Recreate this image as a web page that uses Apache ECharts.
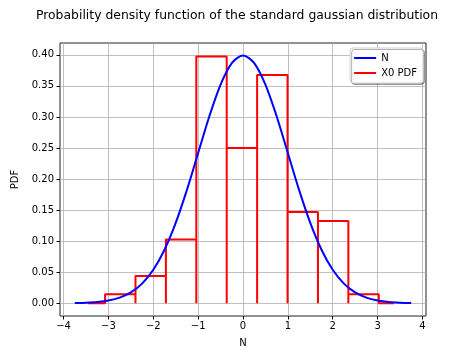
<!DOCTYPE html>
<html>
<head>
<meta charset="utf-8">
<script src="https://cdn.jsdelivr.net/npm/echarts@6/dist/echarts.min.js"></script>
<style>html,body{margin:0;padding:0;background:#fff}#c{width:474px;height:355px}</style>
</head>
<body>
<div id="c"></div>
<script>
// Gaussian curve samples
const curveX = [-3.75,-3.5,-3.25,-3,-2.75,-2.5,-2.25,-2,-1.75,-1.5,-1.25,-1,-0.75,-0.5,-0.25,0,0.25,0.5,0.75,1,1.25,1.5,1.75,2,2.25,2.5,2.75,3,3.25,3.5,3.75];
const curveY = [0.0004,0.0009,0.002,0.0044,0.0091,0.0175,0.0317,0.054,0.0863,0.1295,0.1826,0.242,0.3011,0.3521,0.3867,0.3989,0.3867,0.3521,0.3011,0.242,0.1826,0.1295,0.0863,0.054,0.0317,0.0175,0.0091,0.0044,0.002,0.0009,0.0004];
// Histogram (X0 PDF)
const binEdges = [-3.075,-2.397,-1.719,-1.041,-0.363,0.315,0.993,1.671,2.349,3.027];
const binHeights = [0.0147,0.0441,0.1029,0.3971,0.25,0.3676,0.1471,0.1324,0.0147];
const histStart = -3.45;
const histEnd = 3.36;
// Tick labels
const xTicks = [-4,-3,-2,-1,0,1,2,3,4];
const yTicks = [0,0.05,0.1,0.15,0.2,0.25,0.3,0.35,0.4];

const curveData = curveX.map((x,i)=>[x,curveY[i]]);
const histData = [[histStart,0],[binEdges[0],0]];
for (let i=0;i<binHeights.length;i++){
  histData.push([binEdges[i],binHeights[i]]);
  histData.push([binEdges[i+1],binHeights[i]]);
  histData.push([binEdges[i+1],0]);
}
histData.push([histEnd,0]);

const font = 'DejaVu Sans';
const chart = echarts.init(document.getElementById('c'), null, {renderer:'canvas'});
chart.setOption({
  animation:false,
  backgroundColor:'#fff',
  title:{
    text:'Probability density function of the standard gaussian distribution',
    left:232, top:5, textAlign:'center',
    textStyle:{fontFamily:font,fontSize:12.4,fontWeight:'normal',color:'#000'}
  },
  grid:{left:60,right:48,top:43,bottom:39,show:true,borderColor:'#222',borderWidth:1,backgroundColor:'#fff'},
  legend:{
    orient:'vertical', right:51, top:48,
    data:['N','X0 PDF'],
    icon:'rect', itemWidth:22, itemHeight:2, itemGap:5,
    padding:[5,6,5,4],
    backgroundColor:'#fff', borderColor:'#d0d0d0', borderWidth:1, borderRadius:3,
    shadowColor:'rgba(0,0,0,0.3)', shadowBlur:0, shadowOffsetX:1.5, shadowOffsetY:1.5,
    textStyle:{fontFamily:font,fontSize:10,color:'#000'}
  },
  xAxis:{
    type:'value', min:-4.08, max:4.08,
    name:'N', nameLocation:'middle', nameGap:22,
    nameTextStyle:{fontFamily:font,fontSize:10,color:'#000'},
    axisLine:{show:false,onZero:false},
    axisTick:{show:true,inside:false,length:3.5,lineStyle:{color:'#000'},customValues:xTicks},
    axisLabel:{fontFamily:font,fontSize:10,color:'#000',margin:5,customValues:xTicks,
      formatter:v=>String(v).replace('-','\u2212')},
    splitLine:{show:true,lineStyle:{color:'#b0b0b0',width:0.8},customValues:xTicks}
  },
  yAxis:{
    type:'value', min:-0.0204, max:0.419,
    name:'PDF', nameLocation:'middle', nameGap:32, nameRotate:90,
    nameTextStyle:{fontFamily:font,fontSize:10,color:'#000'},
    axisLine:{show:false,onZero:false},
    axisTick:{show:true,inside:false,length:3.5,lineStyle:{color:'#000'},customValues:yTicks},
    axisLabel:{fontFamily:font,fontSize:10,color:'#000',margin:6,customValues:yTicks,
      formatter:v=>v.toFixed(2)},
    splitLine:{show:true,lineStyle:{color:'#b0b0b0',width:0.8},customValues:yTicks}
  },
  series:[
    {name:'N',type:'line',data:curveData,showSymbol:false,smooth:0.3,
      lineStyle:{color:'#0000ff',width:2},itemStyle:{color:'#0000ff'},z:3},
    {name:'X0 PDF',type:'line',data:histData,showSymbol:false,
      lineStyle:{color:'#ff0000',width:2},itemStyle:{color:'#ff0000'},z:2}
  ]
});
</script>
</body>
</html>
